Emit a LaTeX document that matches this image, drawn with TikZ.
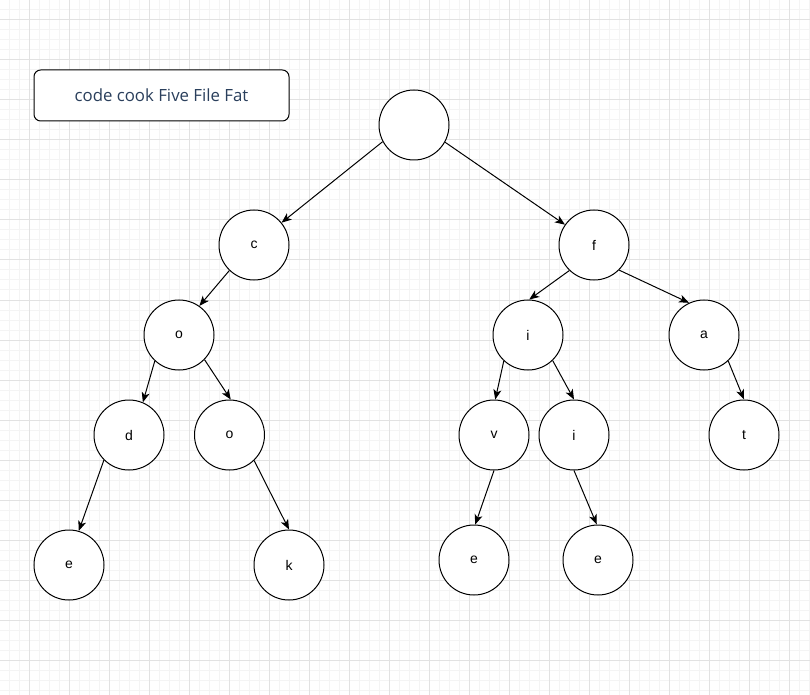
\documentclass[tikz,border=0pt]{standalone}
\usepackage{fontspec}
\setmainfont{Liberation Sans}
\newfontfamily\boxfont{Open Sans}
\usepackage{xcolor}
\usepackage{tikz}
\usetikzlibrary{arrows.meta, positioning}
\definecolor{gridminor}{HTML}{F4F4F4}
\definecolor{gridmajor}{HTML}{E2E2E2}
\definecolor{labelink}{HTML}{2A3F5C}

\begin{document}
\begin{tikzpicture}[x=0.75pt, y=-0.75pt, >={Stealth[length=7.5pt, width=6pt, inset=2pt]}]
    \tikzstyle{letter} = [circle, draw=black, fill=white, minimum size=52.5pt, inner sep=0pt, line width=0.75pt, font=\fontsize{10.5}{12}\selectfont]
    \tikzstyle{titlebox} = [rectangle, draw=black, fill=white, rounded corners=5pt, minimum width=191.25pt, minimum height=38.25pt, line width=0.75pt, text=labelink, font=\boxfont\fontsize{12.6}{14}\selectfont]
    \tikzstyle{link} = [draw, ->, line width=0.75pt]

    \useasboundingbox (0,0) rectangle (810,695);
    \fill[white] (0,0) rectangle (810,695);
    % grid
    \foreach \gx in {9,19,...,809} \draw[gridminor, line width=0.75pt] (\gx,0) -- (\gx,695);
    \foreach \gy in {0,10,...,690} \draw[gridminor, line width=0.75pt] (0,\gy) -- (810,\gy);
    \foreach \gx in {29,69,...,789} \draw[gridmajor, line width=0.75pt] (\gx,0) -- (\gx,695);
    \foreach \gy in {20,60,...,660} \draw[gridmajor, line width=0.75pt] (0,\gy) -- (810,\gy);

    \node [titlebox] (title) at (161.5,95.5) {code cook Five File Fat};

    \node [letter] (root) at (414,125) {};
    \node [letter] (c) at (254,245) {c};
    \node [letter] (f) at (594,245) {f};
    \node [letter] (co) at (179,335) {o};
    \node [letter] (fi) at (528,335) {i};
    \node [letter] (fa) at (704,335) {a};
    \node [letter] (cod) at (129,435) {d};
    \node [letter] (coo) at (229.5,435) {o};
    \node [letter] (fiv) at (494,435) {v};
    \node [letter] (fii) at (574,435) {i};
    \node [letter] (fat) at (744,435) {t};
    \node [letter] (code) at (69,565) {e};
    \node [letter] (cook) at (289,565) {k};
    \node [letter] (five) at (474,560) {e};
    \node [letter] (fiie) at (598,560) {e};

    \path [link] (root.208) -- (c.39);
    \path [link] (root.331) -- (f.145);
    \path [link] (c.226) -- (co.55);
    \path [link] (co.227) -- (cod.67);
    \path [link] (co.316) -- (coo.88);
    \path [link] (cod.225) -- (code.74);
    \path [link] (coo.314) -- (cook.90);
    \path [link] (f.226) -- (fi.88);
    \path [link] (f.315) -- (fa.115);
    \path [link] (fi.227) -- (fiv.88);
    \path [link] (fi.314) -- (fii.90);
    \path [link] (fa.313) -- (fat.90);
    \path [link] (fiv.270) -- (five.88);
    \path [link] (fii.270) -- (fiie.92);
\end{tikzpicture}
\end{document}
